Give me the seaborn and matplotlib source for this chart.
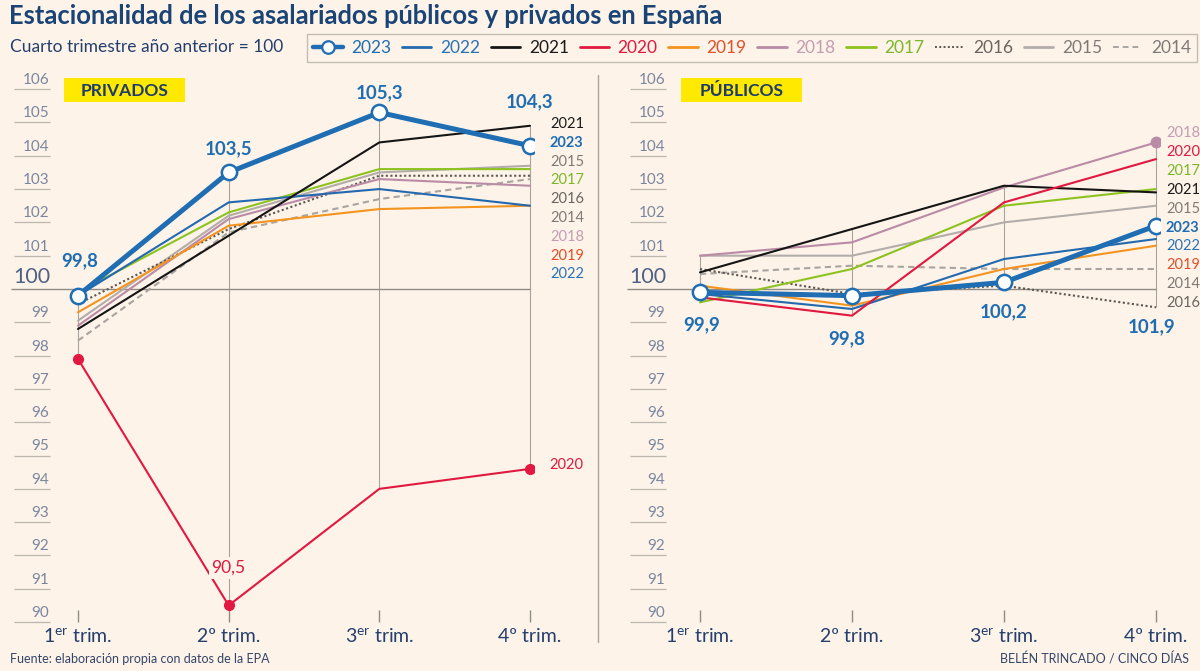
import numpy as np
import pandas as pd
import matplotlib
matplotlib.use("Agg")
import matplotlib.pyplot as plt
import seaborn as sns
from matplotlib.lines import Line2D
from matplotlib.patches import Rectangle
from matplotlib.legend_handler import HandlerLine2D

sns.set_theme(style="white")
plt.rcParams["font.family"] = ["Lato", "DejaVu Sans"]
plt.rcParams["mathtext.fontset"] = "custom"
plt.rcParams["mathtext.rm"] = "Lato"
plt.rcParams["mathtext.it"] = "Lato:italic"
plt.rcParams["mathtext.bf"] = "Lato:bold"

# ---------------- data ----------------
quarter_labels = [r"1$^{\mathrm{er}}$ trim.", "2º trim.", r"3$^{\mathrm{er}}$ trim.", "4º trim."]
years = [2023, 2022, 2021, 2020, 2019, 2018, 2017, 2016, 2015, 2014]

priv_2023 = [99.8, 103.5, 105.3, 104.3]
priv_2022 = [99.8, 102.6, 103.0, 102.5]
priv_2021 = [98.8, 101.6, 104.4, 104.9]
priv_2020 = [97.9, 90.5, 94.0, 94.6]
priv_2019 = [99.3, 101.9, 102.4, 102.5]
priv_2018 = [98.9, 102.1, 103.3, 103.1]
priv_2017 = [99.9, 102.3, 103.6, 103.6]
priv_2016 = [99.55, 101.8, 103.4, 103.4]
priv_2015 = [99.05, 102.2, 103.5, 103.7]
priv_2014 = [98.45, 101.7, 102.7, 103.3]

pub_2023 = [99.9, 99.8, 100.2, 101.9]
pub_2022 = [99.85, 99.4, 100.9, 101.5]
pub_2021 = [100.5, 101.8, 103.1, 102.9]
pub_2020 = [99.75, 99.2, 102.6, 103.9]
pub_2019 = [100.1, 99.5, 100.6, 101.3]
pub_2018 = [101.0, 101.4, 103.05, 104.4]
pub_2017 = [99.6, 100.6, 102.5, 103.0]
pub_2016 = [100.6, 99.85, 100.1, 99.45]
pub_2015 = [101.0, 101.0, 102.0, 102.5]
pub_2014 = [100.45, 100.7, 100.6, 100.6]

priv = {2023: priv_2023, 2022: priv_2022, 2021: priv_2021, 2020: priv_2020, 2019: priv_2019,
        2018: priv_2018, 2017: priv_2017, 2016: priv_2016, 2015: priv_2015, 2014: priv_2014}
pub = {2023: pub_2023, 2022: pub_2022, 2021: pub_2021, 2020: pub_2020, 2019: pub_2019,
       2018: pub_2018, 2017: pub_2017, 2016: pub_2016, 2015: pub_2015, 2014: pub_2014}

yticks = [90, 91, 92, 93, 94, 95, 96, 97, 98, 99, 100, 101, 102, 103, 104, 105, 106]
priv_order = [2021, 2023, 2015, 2017, 2016, 2014, 2018, 2019, 2022]
pub_order = [2018, 2020, 2017, 2021, 2015, 2023, 2022, 2019, 2014, 2016]

# ---------------- styles ----------------
BG = "#fdf3e8"
BLUE = "#1f6db3"
line_color = {2023: BLUE, 2022: "#2369b0", 2021: "#151515", 2020: "#e1183f", 2019: "#f39420",
              2018: "#b98ba6", 2017: "#8dc21f", 2016: "#5a5652", 2015: "#b3adaa", 2014: "#a9a4a0"}
text_color = {2023: BLUE, 2022: "#2a72b8", 2021: "#1a1a1a", 2020: "#e1183f", 2019: "#e0502a",
              2018: "#c39db2", 2017: "#7cb62a", 2016: "#6a6561", 2015: "#807a76", 2014: "#807a76"}
line_style = {2016: (0, (1, 1.2)), 2014: (0, (3, 2))}
zorder = {2023: 10, 2020: 8, 2021: 7}

W, H = 1200, 671
fig = plt.figure(figsize=(12, 6.71), dpi=100, facecolor=BG)


def fx(px):
    return px / W


def fy(py):
    return 1 - py / H


def v_of(py):
    return 100 + (289 - py) / 33.31


def make_ax(left_px, right_px, q1_px, q4_px):
    ax = fig.add_axes([fx(left_px), fy(650), fx(right_px) - fx(left_px), fy(70) - fy(650)])
    s = (q4_px - q1_px) / 3
    ax.set_xlim((left_px - q1_px) / s, 3 + (right_px - q4_px) / s)
    ax.set_ylim(v_of(650), v_of(70))
    ax.set_facecolor("none")
    for sp in ax.spines.values():
        sp.set_visible(False)
    ax.set_xticks([])
    ax.set_yticks([])
    ax.set_xlabel("")
    ax.set_ylabel("")
    return ax, s


axL, sL = make_ax(8, 534, 78, 530)
axR, sR = make_ax(622, 1160, 700, 1156)

q = np.arange(4)


def draw_panel(ax, s, data, q1_px, tick_l_px, tick_r_px):
    # y tick labels and underlines
    xl = (tick_l_px - q1_px) / s
    xr = (tick_r_px - q1_px) / s
    for v in yticks:
        if v == 100:
            continue
        ax.hlines(v, xl, xr, color="#bdb6af", lw=0.9, zorder=1)
        ax.annotate(str(v), xy=(xr - 0.005, v), xytext=(0, 1.5), textcoords="offset points",
                    ha="right", va="bottom", fontsize=11, color="#7a86a0")
    ax.annotate("100", xy=(xr, 100), xytext=(0, 1.5), textcoords="offset points",
                ha="right", va="bottom", fontsize=15.5, color="#4f6185")
    ax.hlines(100, xl - 0.02, 3, color="#8f8a86", lw=1.0, zorder=2)
    # drop lines
    arr = np.array([data[y] for y in years])
    ax.vlines(q, arr.min(axis=0), arr.max(axis=0), color="#a9a39e", lw=0.8, zorder=1)
    # bottom ticks and labels
    ax.vlines(q, 90.0, 90.36, color="#8f8a86", lw=1.0)
    for i, lab in enumerate(quarter_labels):
        ax.text(i, v_of(636), lab, ha="center", va="center", fontsize=14, color="#233f6e")
    # lines
    for y in years[::-1]:
        kw = dict(color=line_color[y], lw=1.5, ls=line_style.get(y, "-"), zorder=zorder.get(y, 5))
        if y == 2023:
            kw.update(lw=3.6, marker="o", markersize=11, markerfacecolor="white",
                      markeredgecolor=BLUE, markeredgewidth=1.8)
        sns.lineplot(x=q, y=data[y], ax=ax, legend=False, **kw)


draw_panel(axL, sL, priv, 78, 14, 50)
draw_panel(axR, sR, pub, 700, 630, 666)

# special markers
axL.plot(q[[0, 1, 3]], np.array(priv_2020)[[0, 1, 3]], "o", color=line_color[2020], ms=7, zorder=9)
axR.plot(q[[3]], np.array(pub_2018)[[3]], "o", color=line_color[2018], ms=7.5, zorder=9)


def fmt(v):
    return f"{v:.1f}".replace(".", ",")


# value labels (offsets in points)
offL = [(1, 25), (0, 17), (0, 14.5), (0, 31.5)]
for i, v in enumerate(priv_2023):
    axL.annotate(fmt(v), xy=(i, v), xytext=offL[i], textcoords="offset points", ha="center",
                 va="center", fontsize=13.5, fontweight="bold", color=BLUE, zorder=12)
offR = [(1, -23), (-4, -31), (0, -21.5), (-3, -73)]
for i, v in enumerate(pub_2023):
    axR.annotate(fmt(v), xy=(i, v), xytext=offR[i], textcoords="offset points", ha="center",
                 va="center", fontsize=13.5, fontweight="bold", color=BLUE, zorder=12)
axL.annotate(fmt(priv_2020[1]), xy=(1, priv_2020[1]), xytext=(0, 27), textcoords="offset points",
             ha="center", va="center", fontsize=12.5, color=line_color[2020], zorder=12,
             bbox=dict(boxstyle="square,pad=0.15", fc=BG, ec="none"))
axL.annotate("2020", xy=(3, priv_2020[3]), xytext=(14, 3), textcoords="offset points",
             ha="left", va="center", fontsize=10.5, color=text_color[2020])

# end labels
for i, y in enumerate(priv_order):
    fig.text(fx(550), fy(124 + i * 18.8), str(y), ha="left", va="center", fontsize=10.5,
             color=text_color[y], fontweight="bold" if y == 2023 else "normal")
for i, y in enumerate(pub_order):
    fig.text(fx(1166), fy(133 + i * 18.9), str(y), ha="left", va="center", fontsize=10.5,
             color=text_color[y], fontweight="bold" if y == 2023 else "normal")

# panel tags
for (x0, x1, lab) in [(64, 185, "PRIVADOS"), (681, 802, "PÚBLICOS")]:
    fig.patches.append(Rectangle((fx(x0), fy(102)), fx(x1) - fx(x0), fy(78) - fy(102),
                                 transform=fig.transFigure, fc="#ffe900", ec="none", zorder=0))
    fig.text(fx((x0 + x1) / 2), fy(90.5), lab, ha="center", va="center", fontsize=12.5,
             fontweight="bold", color="#1d3c6c")

# separator
fig.add_artist(Line2D([fx(598), fx(598)], [fy(75), fy(642)], color="#a9a39e", lw=1.0))

# title / subtitle / footer
fig.text(fx(9), fy(16), "Estacionalidad de los asalariados públicos y privados en España",
         ha="left", va="center", fontsize=18.4, fontweight="bold", color="#1b4476")
fig.text(fx(10), fy(47), "Cuarto trimestre año anterior = 100", ha="left", va="center",
         fontsize=12.5, color="#233f6e")
fig.text(fx(10), fy(659), "Fuente: elaboración propia con datos de la EPA", ha="left",
         va="center", fontsize=9, color="#34456a")
fig.text(fx(1189), fy(659), "BELÉN TRINCADO / CINCO DÍAS", ha="right", va="center",
         fontsize=9, color="#34456a")


# legend
class EndMarkerHandler(HandlerLine2D):
    def create_artists(self, legend, orig_handle, xdescent, ydescent, width, height, fontsize, trans):
        arts = super().create_artists(legend, orig_handle, xdescent, ydescent, width, height,
                                      fontsize, trans)
        for a in arts:
            if a.get_linestyle() in ("None", "none", " ", ""):
                yd = a.get_ydata()
                a.set_data([width - xdescent - 4], [yd[0]])
        return arts


handles = []
for y in years:
    if y == 2023:
        h = Line2D([], [], color=BLUE, lw=3.2, marker="o", markersize=9, markerfacecolor="white",
                   markeredgecolor=BLUE, markeredgewidth=1.6)
    else:
        h = Line2D([], [], color=line_color[y], lw=2.0 if y not in line_style else 1.4,
                   ls=line_style.get(y, "-"))
    handles.append(h)
leg = fig.legend(handles, [str(y) for y in years], loc="lower left",
                 bbox_to_anchor=(fx(307), fy(62), fx(1197) - fx(307), fy(33) - fy(62)),
                 mode="expand", ncol=10, fontsize=12.5, frameon=True, fancybox=False,
                 handlelength=1.7, handletextpad=0.5, borderaxespad=0, borderpad=0.35,
                 columnspacing=0.6, handler_map={handles[0]: EndMarkerHandler(numpoints=1)})
leg.get_frame().set_facecolor(BG)
leg.get_frame().set_edgecolor("#b5afa9")
leg.get_frame().set_linewidth(1.0)
for t, y in zip(leg.get_texts(), years):
    t.set_color(text_color[y])

fig.savefig("out.png", dpi=100, facecolor=BG)
